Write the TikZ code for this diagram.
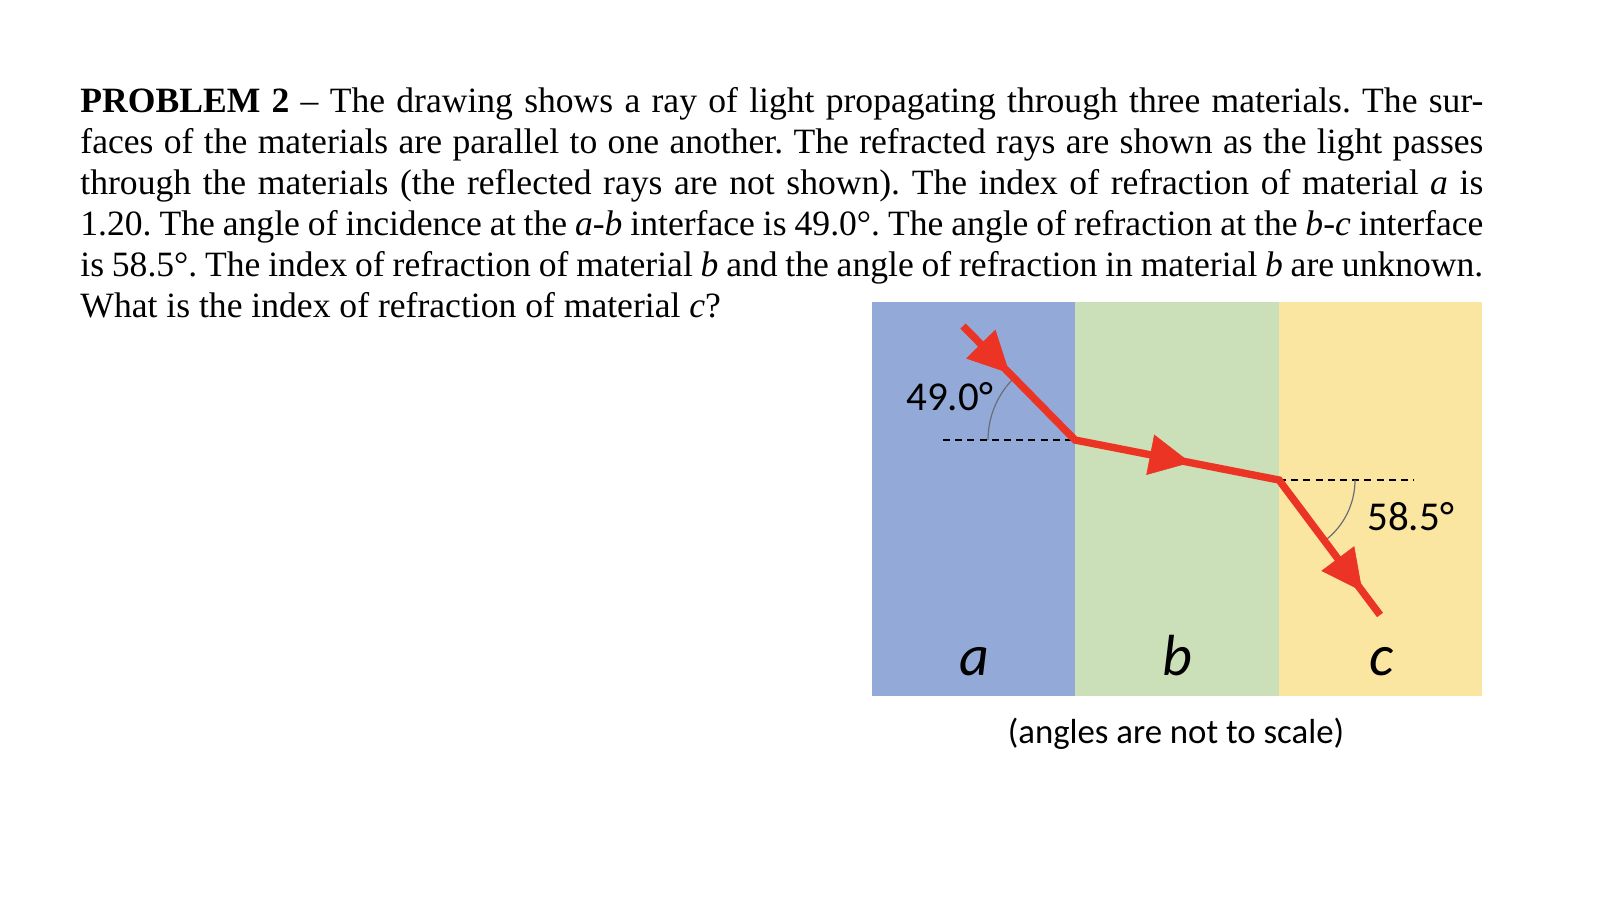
\documentclass[tikz,border=0pt]{standalone}
\usepackage{fontspec}
\setmainfont{Liberation Serif}
\newfontfamily\calib{Carlito}
\usetikzlibrary{arrows.meta,calc}
\definecolor{matA}{RGB}{147,170,216}
\definecolor{matB}{RGB}{203,223,184}
\definecolor{matC}{RGB}{250,229,161}
\definecolor{rayred}{RGB}{236,52,36}
\definecolor{arcgray}{RGB}{105,110,118}
\begin{document}
\begin{tikzpicture}[x=0.5pt,y=-0.5pt,
  ray/.style={draw=rayred, line width=3.7pt},
  rayhead/.style={draw=rayred, fill=rayred, line width=0.3pt, -{Triangle[length=20.5pt,width=20.5pt]}},
  normalline/.style={draw=black, line width=0.9pt, dash pattern=on 3.5pt off 2.6pt},
  anglearc/.style={draw=arcgray, line width=0.6pt},
  anglelabel/.style={inner sep=0pt, anchor=base west, font=\calib\fontsize{20.5}{24}\selectfont},
  matlabel/.style={inner sep=0pt, anchor=base, font=\calib\itshape\fontsize{29}{34}\selectfont}
]
\useasboundingbox (0,0) rectangle (1616,896);
\fill[white] (0,0) rectangle (1616,896);

% problem text
\node[anchor=base west, inner sep=0pt] (prob) at (80,112) {\vtop{\fontsize{17.8}{20.5}\selectfont\frenchspacing
\hbox to 701.5pt{\textbf{PROBLEM 2} – The drawing shows a ray of light propagating through three materials. The sur-}
\hbox to 701.5pt{faces of the materials are parallel to one another. The refracted rays are shown as the light passes}
\hbox to 701.5pt{through the materials (the reflected rays are not shown). The index of refraction of material \textit{a} is}
\hbox to 701.5pt{1.20. The angle of incidence at the \textit{a-b} interface is 49.0°. The angle of refraction at the \textit{b-c} interface}
\hbox to 701.5pt{is 58.5°. The index of refraction of material \textit{b} and the angle of refraction in material \textit{b} are unknown.}
\hbox{What is the index of refraction of material \textit{c}?}}};

% materials
\fill[matA] (872,302) rectangle (1075,696);
\fill[matB] (1075,302) rectangle (1279,696);
\fill[matC] (1279,302) rectangle (1482,696);

% ray points
\coordinate (s) at (963,326);
\coordinate (v1) at (1075,440);
\coordinate (v2) at (1279,480);
\coordinate (e) at (1380,615);
\coordinate (n1) at (943,440);
\coordinate (n2) at (1414,480);

% normals
\draw[normalline] (n1) -- (v1);
\draw[normalline] (v2) -- (n2);

% angle arcs
\draw[anglearc] ($(v1)+(-87,0)$) arc[start angle=180, end angle=225, radius=87];
\draw[anglearc] ($(v2)+(76,0)$) arc[start angle=0, end angle=53, radius=76];

% ray
\draw[ray] (s) -- (v1) -- (v2) -- (e);
\draw[rayhead] ($(s)!0.38!(v1)$) -- ($(s)!0.415!(v1)$);
\draw[rayhead] ($(v1)!0.53!(v2)$) -- ($(v1)!0.566!(v2)$);
\draw[rayhead] ($(v2)!0.79!(e)$) -- ($(v2)!0.825!(e)$);

% labels
\node[anglelabel] (l49) at (906,410) {49.0°};
\node[anglelabel] (l58) at (1367,530) {58.5°};
\node[matlabel] (la) at (974,675) {a};
\node[matlabel] (lb) at (1177,675) {b};
\node[matlabel] (lc) at (1382,675) {c};
\node[inner sep=0pt, anchor=base, font=\calib\fontsize{17.4}{21}\selectfont] (cap) at (1176,743) {(angles are not to scale)};
\end{tikzpicture}
\end{document}
